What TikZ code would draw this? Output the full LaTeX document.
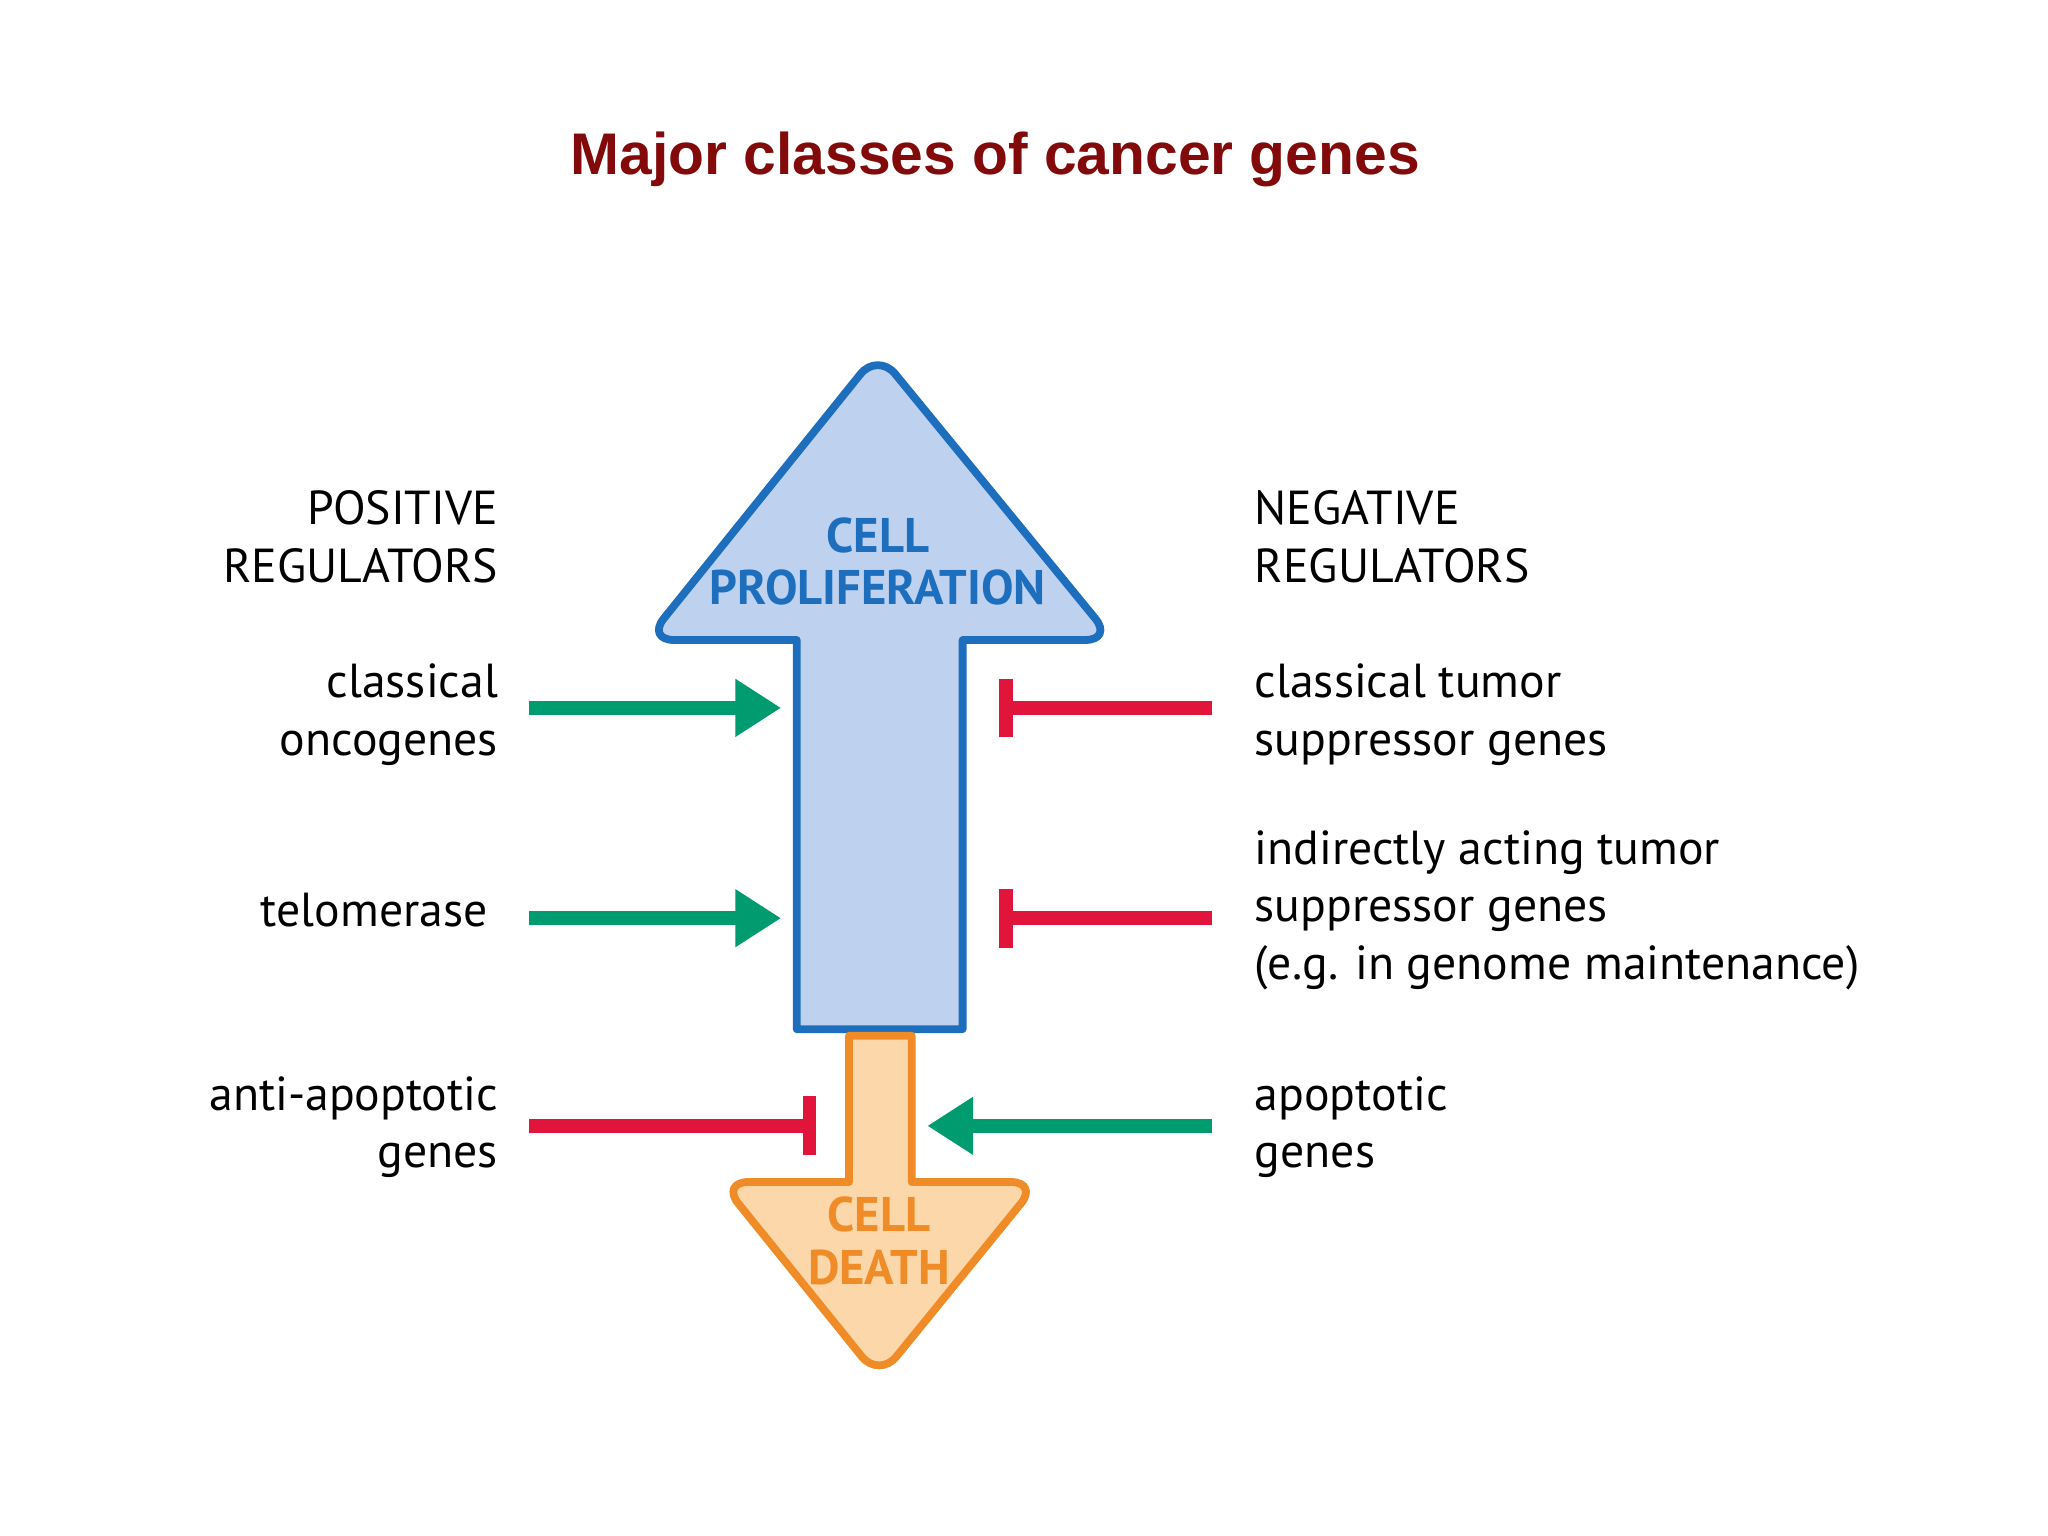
\documentclass[tikz,border=0pt]{standalone}
\usepackage{fontspec}
\setmainfont{PT Sans}
\newfontfamily\titlefont{Liberation Sans}
\usetikzlibrary{arrows.meta, positioning}
\definecolor{actgreen}{RGB}{0,155,110}
\definecolor{inhred}{RGB}{225,20,60}
\definecolor{profblue}{RGB}{190,210,240}
\definecolor{profedge}{RGB}{30,110,190}
\definecolor{deathfill}{RGB}{252,215,170}
\definecolor{deathedge}{RGB}{240,140,40}
\definecolor{titlered}{RGB}{130,10,10}

\begin{document}
\begin{tikzpicture}[
    lbl/.style={font=\fontsize{10.4}{12.6}\selectfont, inner sep=0pt},
    lblleft/.style={lbl, anchor=east, align=right},
    lblright/.style={lbl, anchor=west, align=left},
    inarrow/.style={font=\bfseries\fontsize{10.6}{11.4}\selectfont, align=center},
    activate/.style={actgreen, line width=3pt, -{Triangle[length=0.35cm,width=0.42cm]}},
    inhibit/.style={inhred, line width=3pt, -{Bar[width=0.45cm,line width=3pt]}},
    bigarrow/.style={line width=1.7pt, line join=round}
]
\useasboundingbox (0,0) rectangle (15.68,11.76);

% title
\node[font=\titlefont\bfseries\fontsize{12.8}{15}\selectfont, text=titlered] (title) at (7.62,10.54) {Major classes of cancer genes};

% big arrows
\draw[bigarrow, draw=profedge, fill=profblue]
  (6.10,3.88) -- (6.10,6.86) [rounded corners=6pt] -- (4.95,6.86) -- (6.72,9.06) -- (8.52,6.86) [sharp corners] -- (7.37,6.86) -- (7.37,3.88) -- cycle;
\draw[bigarrow, draw=deathedge, fill=deathfill]
  (6.50,3.83) -- (6.50,2.71) [rounded corners=6pt] -- (5.52,2.71) -- (6.73,1.21) -- (7.95,2.71) [sharp corners] -- (6.98,2.71) -- (6.98,3.83) -- cycle;
\node[inarrow, text=profedge] (prolif) at (6.72,7.46) {CELL\\PROLIFERATION};
\node[inarrow, text=deathedge] (death) at (6.73,2.26) {CELL\\DEATH};

% labels
\node[lblleft] (pos) at (3.82,7.65) {POSITIVE\\REGULATORS};
\node[lblleft] (onco) at (3.82,6.29) {classical\\oncogenes};
\node[lblleft] (telo) at (3.74,4.79) {telomerase};
\node[lblleft] (antiapo) at (3.82,3.13) {anti-apoptotic\\genes};
\node[lblright] (neg) at (9.60,7.65) {NEGATIVE\\REGULATORS};
\node[lblright] (tsg) at (9.60,6.29) {classical tumor\\suppressor genes};
\node[lblright] (indirect) at (9.60,4.79) {indirectly acting tumor\\suppressor genes\\(e.g. in genome maintenance)};
\node[lblright] (apo) at (9.60,3.13) {apoptotic\\genes};

% connector ends
\coordinate (oncoS) at (4.05,6.34);
\coordinate (oncoE) at (5.98,6.34);
\coordinate (teloS) at (4.05,4.73);
\coordinate (teloE) at (5.98,4.73);
\coordinate (antiS) at (4.05,3.14);
\coordinate (antiE) at (6.25,3.14);
\coordinate (tsgS) at (9.28,6.34);
\coordinate (tsgE) at (7.65,6.34);
\coordinate (indS) at (9.28,4.73);
\coordinate (indE) at (7.65,4.73);
\coordinate (apoS) at (9.28,3.14);
\coordinate (apoE) at (7.10,3.14);

\draw[activate] (oncoS) -- (oncoE);
\draw[activate] (teloS) -- (teloE);
\draw[inhibit] (antiS) -- (antiE);
\draw[inhibit] (tsgS) -- (tsgE);
\draw[inhibit] (indS) -- (indE);
\draw[activate] (apoS) -- (apoE);
\end{tikzpicture}
\end{document}
